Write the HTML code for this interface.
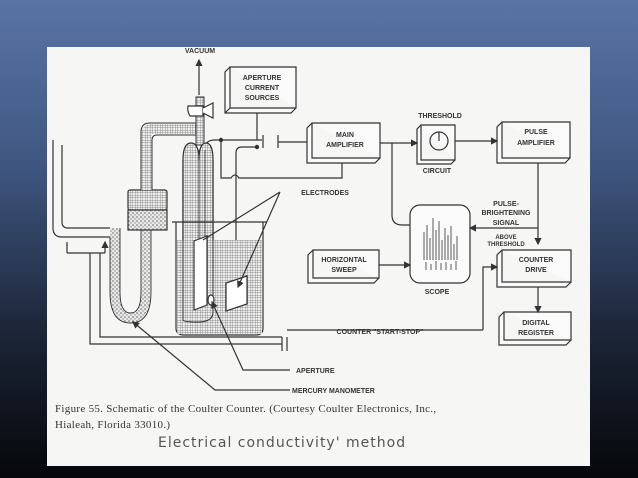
<!DOCTYPE html>
<html><head><style>
html,body{margin:0;padding:0;width:638px;height:478px;overflow:hidden;
background:linear-gradient(180deg,#5a74a6 0%,#3f5680 35%,#1c2536 70%,#05070a 100%);}
svg{position:absolute;left:0;top:0}
text{font-family:"Liberation Sans",sans-serif;font-size:7px;font-weight:bold;fill:#333;text-anchor:middle}
.c{font-family:"Liberation Serif",serif;font-size:11px;font-weight:normal;text-anchor:start;fill:#333;letter-spacing:0.3px}
.h{font-family:"DejaVu Sans",sans-serif;font-size:14px;font-weight:normal;text-anchor:start;fill:#555;letter-spacing:1px}
</style></head><body>
<svg width="638" height="478" viewBox="0 0 638 478">
<defs>
<pattern id="g" width="2.5" height="2.5" patternUnits="userSpaceOnUse"><rect width="3" height="3" fill="#eee"/><path d="M0 0H3M0 0V3" stroke="#777" stroke-width="0.7"/></pattern>
<pattern id="d" width="4" height="4" patternUnits="userSpaceOnUse"><rect width="4" height="4" fill="#e8e8e8"/><circle cx="1" cy="1" r="0.8" fill="#666"/><circle cx="3" cy="3" r="0.7" fill="#888"/></pattern>
<marker id="a" markerWidth="6" markerHeight="6" refX="5" refY="3" orient="auto"><path d="M0 0L6 3L0 6z" fill="#333"/></marker>
</defs>
<rect x="47" y="47" width="543" height="419" fill="#f6f6f4"/>
<g stroke="#333" stroke-width="1.2" fill="none">
<g fill="#fafafa">
<path d="M230 67H296V108H230Z M230 67L225 72V113H291L296 108 M225 113L230 108"/>
<path d="M312 123H380V158H312Z M312 123L307 128V163H375L380 158"/>
<path d="M421 125H455V160H421Z M421 125L417 129V164H451L455 160"/>
<path d="M502 122H570V158H502Z M502 122L497 127V163H565L570 158"/>
<path d="M313 250H379V278H313Z M313 250L308 255V283H374L379 278"/>
<path d="M502 250H571V282H502Z M502 250L497 255V287H566L571 282"/>
<path d="M504 312H571V340H504Z M504 312L499 317V345H566L571 340"/>
<rect x="410" y="205" width="60" height="78" rx="10"/>
</g>
<circle cx="439" cy="141" r="9"/><path d="M439 132V141"/>
<path d="M424 260V232M427 260V225M430 260V238M433 260V218M436 260V230M439 260V221M442 260V240M445 260V228M448 260V235M451 260V226M454 260V244M457 260V236M426 270V262M431 270V264M436 270V261M441 270V263M446 270V262M451 270V264M456 270V261" stroke-width="0.8"/>
<path d="M199 95V60" marker-end="url(#a)"/>
<path d="M380 143H417" marker-end="url(#a)"/>
<path d="M455 141H497" marker-end="url(#a)"/>
<path d="M392 143V215Q392 225 402 225H410"/>
<path d="M538 163V244" marker-end="url(#a)"/>
<path d="M538 228H470" marker-end="url(#a)"/>
<path d="M379 265H410" marker-end="url(#a)"/>
<path d="M538 287V312" marker-end="url(#a)"/>
<path d="M483 330V267H497" marker-end="url(#a)"/>
<path d="M257 113V140 M205 145Q208 140 214 140H262 M263 135V148 M278 135V148 M278 142H307"/>
<circle cx="221" cy="140" r="1.6" fill="#333"/><circle cx="257" cy="147" r="1.6" fill="#333"/>
<path d="M221 140V178H231Q235 172 239 178H342V163"/>
<path d="M257 147H242Q236 147 236 153V282"/>
<path d="M287 330H483 M282 337V351 M287 337V351"/>
<path d="M282 344H90V253 M282 337H100V253 M67 253H105 M67 253V244 M105 253V244"/>
<path d="M67 246L67 242 M105 246L105 242" marker-end="url(#a)"/>
<!-- inlet pipe -->
<path d="M53 140V228Q53 237 62 237H110 M62 145V222Q62 228 68 228H110"/>
<!-- U-tube -->
<path d="M115 228V292Q115 318 130.5 318Q146 318 146 292V230" stroke="url(#d)" stroke-width="10"/>
<path d="M110 237V292Q110 323 130.5 323Q151 323 151 292V230" stroke-width="0.9"/>
<path d="M120 228V292Q120 313 130.5 313Q141 313 141 292V230" stroke-width="0.9"/>
<!-- reservoir -->
<rect x="128" y="190" width="39" height="20" rx="2" fill="url(#g)"/>
<rect x="128" y="210" width="39" height="20" fill="url(#d)"/>
<path d="M146.5 190V135Q146.5 129 152 129H198" stroke="url(#g)" stroke-width="10"/>
<path d="M141 190V132Q141 123 150 123H198 M152 190V140Q152 135 157 135H198" stroke-width="1"/>
<!-- stem & stopcock -->
<rect x="196" y="97" width="8" height="48" fill="url(#g)" stroke-width="1"/>
<path d="M188 106H203V116H190Q187 111 188 106Z" fill="#fff"/>
<path d="M203 108L213 103V118L203 113" fill="#fff"/>
<!-- double tube -->
<path d="M183 325V160Q183 143 191 143Q199 143 199 160 M199 160Q199 143 206 143Q213 143 213 160V325" fill="url(#g)"/>
<path d="M183 160V312Q183 322 198 322Q213 322 213 312V160" fill="url(#g)"/>
<path d="M199 150V305 M205 150V300" stroke-width="0.9"/>
<!-- beaker -->
<path d="M172 222H267 M176 222V328Q176 335 184 335H256Q263 335 263 328V222"/>
<rect x="177" y="240" width="85" height="94" fill="url(#g)" stroke="none"/>
<path d="M183 240V320Q183 322 198 322Q213 322 213 312V240" fill="url(#g)" stroke-width="1"/>
<path d="M199 240V305 M205 240V300" stroke-width="0.9"/>
<path d="M194 241L207 236V305L194 310Z" fill="#fff"/>
<path d="M226 283L247 276V304L226 311Z" fill="#fff"/>
<ellipse cx="211" cy="300" rx="3" ry="5" fill="#fff"/>
<path d="M280 192L203 240 M280 192L238 287" marker-end="url(#a)"/>
<path d="M290 370H243L212 302" marker-end="url(#a)"/>
<path d="M290 390H215L133 322" marker-end="url(#a)"/>
</g>
<text x="200" y="53">VACUUM</text>
<text x="262" y="80">APERTURE</text><text x="262" y="90">CURRENT</text><text x="262" y="100">SOURCES</text>
<text x="345" y="137">MAIN</text><text x="345" y="147">AMPLIFIER</text>
<text x="440" y="118">THRESHOLD</text><text x="437" y="173">CIRCUIT</text>
<text x="536" y="134">PULSE</text><text x="536" y="145">AMPLIFIER</text>
<text x="325" y="195">ELECTRODES</text>
<text x="506" y="206">PULSE-</text><text x="506" y="215">BRIGHTENING</text><text x="506" y="225">SIGNAL</text>
<text x="506" y="239" style="font-size:6px">ABOVE</text><text x="506" y="246" style="font-size:6px">THRESHOLD</text>
<text x="344" y="262">HORIZONTAL</text><text x="344" y="272">SWEEP</text>
<text x="536" y="262">COUNTER</text><text x="536" y="272">DRIVE</text>
<text x="437" y="294">SCOPE</text>
<text x="536" y="325">DIGITAL</text><text x="536" y="335">REGISTER</text>
<text x="380" y="334">COUNTER "START-STOP"</text>
<text x="296" y="373" style="text-anchor:start">APERTURE</text>
<text x="292" y="393" style="text-anchor:start">MERCURY MANOMETER</text>
<text class="c" x="55" y="412">Figure 55.  Schematic of the Coulter Counter.  (Courtesy Coulter Electronics, Inc.,</text>
<text class="c" x="55" y="428">Hialeah, Florida 33010.)</text>
<text class="h" x="158" y="447">Electrical conductivity' method</text>
</svg>
</body></html>
